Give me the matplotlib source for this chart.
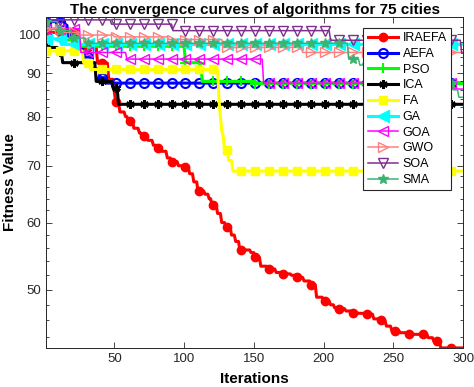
import numpy as np
import matplotlib
matplotlib.use('Agg')
import matplotlib.pyplot as plt
from matplotlib.ticker import FixedLocator, FixedFormatter, NullFormatter

plt.rcParams['font.family'] = ['Liberation Sans', 'DejaVu Sans']

iterations = np.arange(1, 301)

# convergence curves: iteration where the best value changes, and the new value
iraefa_iter = [1, 22, 38, 46, 50, 51, 54, 58, 60, 64, 68, 70, 74, 78, 81, 84, 88, 91, 96,
               101, 104, 107, 110, 115, 118, 120, 124, 127, 130, 134, 137, 140, 148, 151,
               155, 160, 166, 171, 177, 181, 186, 191, 195, 200, 205, 208, 211, 216, 221,
               225, 231, 236, 241, 245, 249, 255, 261, 275, 279, 284]
iraefa_val = [100.5, 96.5, 92.5, 88.5, 85.5, 83.2, 81.0, 80.0, 79.1, 77.5, 76.5, 75.8, 75.0,
              74.0, 73.5, 72.8, 71.5, 70.8, 70.0, 69.8, 68.5, 67.0, 65.4, 64.8, 64.0, 63.0,
              61.5, 60.0, 59.3, 58.0, 57.0, 55.7, 55.3, 54.6, 53.3, 52.9, 52.4, 52.2, 52.0,
              51.7, 51.2, 50.7, 49.0, 48.5, 48.0, 47.6, 47.5, 47.2, 47.0, 46.9, 46.8, 46.2,
              46.0, 45.3, 44.7, 44.5, 44.3, 43.9, 43.5, 42.7]

aefa_iter = [1, 15, 17, 23, 28, 34, 40, 44]
aefa_val = [103.5, 102.5, 99.5, 97.0, 94.0, 91.0, 88.9, 87.6]

pso_iter = [1, 15, 25, 101, 113, 151]
pso_val = [101.5, 98.5, 96.8, 92.6, 88.0, 87.5]

ica_iter = [1, 10, 13, 37, 49, 53]
ica_val = [96.5, 95.3, 92.6, 88.0, 86.5, 82.7]

fa_iter = [1, 28, 33, 125, 126, 127, 128, 129, 132, 135]
fa_val = [95.6, 92.6, 90.9, 84.0, 80.0, 77.0, 76.0, 73.0, 71.0, 69.0]

ga_iter = [1, 12]
ga_val = [98.8, 97.3]

goa_iter = [1, 26, 59, 157, 292]
goa_val = [101.5, 95.2, 93.5, 87.6, 86.2]

gwo_iter = [1, 12, 24, 50, 89, 128, 185]
gwo_val = [101.5, 100.5, 99.8, 99.3, 98.6, 96.5, 95.2]

soa_iter = [1, 48, 92, 205, 299]
soa_val = [104.0, 102.8, 101.0, 98.4, 95.0]

sma_iter = [1, 10, 20, 30, 218, 226, 240, 255, 293, 297]
sma_val = [103.5, 101.0, 99.0, 97.6, 93.5, 92.0, 89.5, 87.6, 86.0, 84.3]


def curve(change_iter, change_val):
    idx = np.searchsorted(change_iter, iterations, side='right') - 1
    return np.array(change_val)[idx]


series = [
    ('IRAEFA', iraefa_iter, iraefa_val, dict(color='#FF0000', marker='o', mfc='#FF0000', ms=6, lw=2.2)),
    ('AEFA', aefa_iter, aefa_val, dict(color='#0000FF', marker='o', mfc='none', ms=6.5, mew=1.5, lw=2.2)),
    ('PSO', pso_iter, pso_val, dict(color='#00FF00', marker='+', ms=7, mew=1.5, lw=2.2)),
    ('ICA', ica_iter, ica_val, dict(color='#000000', marker=(6, 2, 0), ms=6, mew=1.8, lw=2.2)),
    ('FA', fa_iter, fa_val, dict(color='#FFFF00', marker='s', mfc='#FFFF00', ms=6, lw=2.2)),
    ('GA', ga_iter, ga_val, dict(color='#00FFFF', marker='<', mfc='#00FFFF', ms=8, lw=2.2)),
    ('GOA', goa_iter, goa_val, dict(color='#FF00FF', marker='<', mfc='none', ms=7, lw=1.1)),
    ('GWO', gwo_iter, gwo_val, dict(color='#FF7F7F', marker='>', mfc='none', ms=7, lw=1.1)),
    ('SOA', soa_iter, soa_val, dict(color='#7E2F8E', marker='v', mfc='none', ms=7, lw=1.1)),
    ('SMA', sma_iter, sma_val, dict(color='#3CB371', marker='*', ms=7, lw=1.1)),
]

fig = plt.figure(figsize=(4.74, 3.87), dpi=100)
ax = fig.add_axes([0.097, 0.101, 0.880, 0.855])

for name, it, val, style in series:
    ax.plot(iterations, curve(it, val), label=name, markevery=10, **style)

ax.set_yscale('log')
ax.set_xlim(1, 300)
ax.set_ylim(42.7, 104.8)
ax.xaxis.set_major_locator(FixedLocator([50, 100, 150, 200, 250, 300]))
ax.yaxis.set_major_locator(FixedLocator([50, 60, 70, 80, 90, 100]))
ax.yaxis.set_major_formatter(FixedFormatter(['50', '60', '70', '80', '90', '100']))
ax.yaxis.set_minor_locator(FixedLocator(list(range(44, 104, 2))))
ax.yaxis.set_minor_formatter(NullFormatter())
ax.tick_params(which='both', direction='in', top=True, right=True, colors='#262626',
               labelsize=9.5, width=0.6)
ax.tick_params(which='major', length=4)
ax.tick_params(which='minor', length=2)
for s in ax.spines.values():
    s.set_color('#262626')
    s.set_linewidth(0.7)

ax.set_title('The convergence curves of algorithms for 75 cities', fontsize=11,
             fontweight='bold', pad=2)
ax.set_xlabel('Iterations', fontsize=11, fontweight='bold', labelpad=5)
ax.set_ylabel('Fitness Value', fontsize=11, fontweight='bold', labelpad=1)

leg = ax.legend(loc='upper right', bbox_to_anchor=(0.978, 0.975), fontsize=9,
                labelspacing=0.3, handlelength=2.4, handletextpad=0.4,
                borderpad=0.35, borderaxespad=0.2, fancybox=False, framealpha=1,
                edgecolor='#262626')
leg.get_frame().set_linewidth(0.8)

fig.savefig('out.png', dpi=100)
